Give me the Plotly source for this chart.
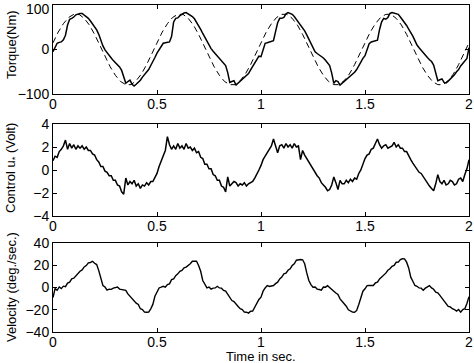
import numpy as np
import plotly.graph_objects as go

# time axes (seconds)
t_fine = np.round(np.arange(0, 201) * 0.01, 2)
t_ref = np.round(np.arange(0, 81) * 0.025, 3)

# Torque (Nm): measured (solid) and reference (dashed)
torque_measured = [
    -5, 5, 14, 16, 17, 22, 32, 55, 68, 70, 73, 78, 80, 81, 81, 78, 74, 70, 64, 57,
    51, 44, 34, 20, 8, -1, -8, -14, -19, -25, -30, -34, -39, -47, -60, -76, -72, -69, -78, -82,
    -78, -74, -69, -62, -57, -51, -45, -36, -28, -18,
    -8, 0, 8, 14, 15, 16, 17, 29, 62, 70, 71, 76, 80, 82, 83, 80, 78, 74, 69, 62,
    54, 45, 36, 27, 17, 8, 2, -4, -9, -14, -19, -24, -30, -36, -52, -74, -72, -70, -80, -76,
    -71, -67, -63, -58, -54, -46, -38, -31, -23, -15,
    -16, 2, 14, 15, 17, 18, 20, 40, 60, 70, 70, 72, 80, 83, 81, 79, 74, 68, 62, 56,
    50, 42, 33, 24, 14, 5, -5, -9, -12, -15, -19, -24, -29, -36, -53, -76, -70, -72, -80, -76,
    -71, -68, -65, -61, -57, -51, -45, -36, -30, -20,
    -14, 2, 13, 17, 18, 20, 21, 45, 62, 70, 68, 72, 81, 83, 82, 80, 79, 73, 67, 61,
    54, 46, 39, 30, 20, 10, 4, -2, -8, -13, -18, -23, -27, -35, -50, -70, -68, -66, -74, -75,
    -71, -67, -63, -57, -50, -45, -37, -32, -27, -20,
    4,
]
torque_reference = [
    15, 39, 58, 72, 79, 79, 70, 55, 34, 10, -15, -39, -58, -72, -79, -79, -70, -55, -34, -10,
    15, 39, 58, 72, 79, 79, 70, 55, 34, 10, -15, -39, -58, -72, -79, -79, -70, -55, -34, -10,
    15, 39, 58, 72, 79, 79, 70, 55, 34, 10, -15, -39, -58, -72, -79, -79, -70, -55, -34, -10,
    15, 39, 58, 72, 79, 79, 70, 55, 34, 10, -15, -39, -58, -72, -79, -79, -70, -55, -34, -10,
    15,
]

# Control u* (Volt)
control_u = [
    0.8, 1.2, 1.1, 1.6, 1.8, 2.1, 2.6, 1.8, 2.3, 1.9, 2.2, 1.8, 2.1, 1.9, 2.1, 1.8, 2.0, 1.7, 1.7, 1.4,
    1.3, 0.9, 0.7, 0.3, 0.3, -0.1, -0.2, -0.5, -0.5, -0.9, -0.9, -1.3, -1.4, -1.9, -2.1, -0.7, -1.3, -1.0, -1.2, -0.9,
    -1.4, -1.2, -1.6, -1.3, -1.4, -1.1, -1.3, -1.0, -1.0, -0.6,
    -0.3, 0.3, 0.8, 1.3, 1.7, 2.9, 2.2, 1.8, 2.1, 1.8, 2.3, 1.9, 2.1, 1.8, 2.3, 1.9, 2.0, 1.7, 1.9, 1.5,
    1.6, 1.1, 1.0, 0.5, 0.5, 0.1, 0.1, -0.4, -0.5, -0.9, -0.9, -1.4, -1.5, -1.9, -0.6, -1.4, -1.2, -1.0, -1.1, -1.4,
    -1.2, -1.3, -1.1, -1.4, -1.2, -1.1, -1.0, -0.7, -0.4, 0.0,
    0.4, 0.9, 1.2, 1.5, 1.9, 2.1, 2.7, 2.1, 1.5, 2.1, 2.2, 1.9, 2.3, 2.0, 2.2, 1.9, 2.3, 2.0, 2.1, 0.9,
    1.7, 1.3, 1.0, 0.6, 0.4, 0.1, -0.2, -0.5, -0.7, -1.1, -1.3, -1.5, -1.8, -1.7, -1.3, -0.6, -1.1, -1.7, -0.9, -1.2,
    -1.2, -0.9, -1.1, -0.8, -1.0, -0.7, -0.8, -0.3, 0.0, 0.6,
    1.0, 1.3, 1.4, 1.8, 1.9, 2.3, 2.7, 2.2, 1.9, 2.1, 2.2, 1.9, 2.0, 2.1, 2.4, 2.0, 2.2, 1.9, 1.9, 1.6,
    1.6, 1.2, 0.9, 0.6, 0.3, 0.1, -0.2, -0.3, -0.6, -0.9, -1.2, -1.4, -1.6, -1.8, -1.2, -0.4, -1.0, -1.2, -0.9, -1.3,
    -1.2, -0.9, -1.0, -1.3, -1.2, -0.8, -0.7, -1.0, -0.4, 0.1,
    0.9,
]

# Velocity (deg./sec.)
velocity = [
    -9, -1, -2.5, 0.5, -1, 1.2, 0.8, 4, 4.8, 7.8, 8.4, 10.8, 12.2, 14.6, 15.8, 18.5, 19.7, 22.1, 22.5, 23.6,
    21.8, 20.6, 15.2, 8.6, 1.8, 0.4, -2.3, -1.5, -1.7, -0.6, -0.4, 0.4, -1.4, -1.6, -2.4, -2.6, -5.8, -7.9, -10.2, -11.5,
    -14.1, -15.3, -19.1, -19.8, -22.1, -22.2, -22.1, -19.2, -15.2, -7.9,
    -4.2, -0.4, 0.3, 1.1, 0.3, 2.6, 3.3, 7.1, 7.8, 10.7, 12.3, 14.6, 15.3, 17.6, 18.3, 19.7, 21.3, 23.6, 23.4, 23.6,
    19.8, 14.6, 6.3, 2.6, -0.4, 0.4, -1.4, -0.6, -0.4, 1.1, -0.4, -0.6, -2.6, -3.3, -6.2, -7.9, -11.7, -12.6, -15.4, -17.1,
    -19.1, -19.8, -22.1, -22.2, -23.0, -21.3, -21.2, -17.4, -14.6, -10.8,
    -8.7, -3.3, -0.4, 1.7, 0.9, 1.7, 1.8, 3.5, 4.8, 7.7, 9.3, 12.2, 12.9, 15.5, 16.8, 19.7, 21.3, 24.5, 24.9, 25.1,
    24.9, 21.3, 13.1, 6.3, 2.6, 0.3, 0.4, -1.4, -1.8, -2.4, 0.4, 0.3, 1.7, 0.3, -1.4, -3.3, -5.0, -6.3, -10.2, -12.3,
    -15.2, -16.8, -20.0, -21.3, -22.1, -22.2, -20.6, -15.3, -10.2, -3.3,
    -1.2, 1.7, 1.8, 2.0, 1.8, 4.1, 4.8, 7.7, 9.3, 11.6, 12.9, 15.5, 16.8, 19.1, 19.8, 22.7, 22.8, 25.1, 25.8, 25.7,
    22.8, 17.6, 9.3, 5.6, 1.8, 1.1, -0.4, -0.6, -2.4, -0.6, 0.3, 1.7, -0.4, -1.6, -4.1, -4.8, -7.1, -9.4, -12.3, -13.8,
    -17.0, -17.4, -19.1, -19.8, -21.2, -19.8, -22.1, -19.8, -19.1, -14.4,
    -8.3,
]

x_ticks = [0, 0.5, 1, 1.5, 2]
x_tick_text = ["0", "0.5", "1", "1.5", "2"]
torque_ticks = [-100, 0, 100]
torque_tick_text = ["\u2212100", "0", ""]   # top "100" drawn as a label just inside the page edge
torque_top_label = "100"
control_ticks = [-4, -2, 0, 2, 4]
velocity_ticks = [-40, -20, 0, 20, 40]

FONT = "Liberation Sans, Arial, Helvetica, sans-serif"

fig = go.Figure()
fig.add_trace(go.Scatter(x=t_ref, y=torque_reference, mode="lines",
                         line=dict(color="black", width=1, dash="6px,4px"),
                         xaxis="x", yaxis="y", showlegend=False))
fig.add_trace(go.Scatter(x=t_fine, y=torque_measured, mode="lines",
                         line=dict(color="black", width=1.5),
                         xaxis="x", yaxis="y", showlegend=False))
fig.add_trace(go.Scatter(x=t_fine, y=control_u, mode="lines",
                         line=dict(color="black", width=1.5),
                         xaxis="x2", yaxis="y2", showlegend=False))
fig.add_trace(go.Scatter(x=t_fine, y=velocity, mode="lines",
                         line=dict(color="black", width=1.4),
                         xaxis="x3", yaxis="y3", showlegend=False))

W, H = 474, 363
x_dom = [53 / W, 469 / W]
doms = [
    [1 - 94 / H, 1 - 5 / H],
    [1 - 216 / H, 1 - 124 / H],
    [1 - 332 / H, 1 - 243 / H],
]

axis_common = dict(showline=True, linecolor="black", linewidth=1, mirror="ticks",
                   ticks="inside", ticklen=4, tickcolor="black", tickwidth=1,
                   showgrid=False, zeroline=False, automargin=False,
                   ticklabeloverflow="allow",
                   tickfont=dict(family=FONT, size=14, color="black"))

layout = dict(width=W, height=H, margin=dict(l=0, r=0, t=0, b=0, pad=0),
              paper_bgcolor="white", plot_bgcolor="white", showlegend=False)

yticks = [torque_ticks, control_ticks, velocity_ticks]
yranges = [[-100, 100], [-4, 4], [-40, 40]]
for i in range(3):
    sfx = "" if i == 0 else str(i + 1)
    layout["xaxis" + sfx] = dict(axis_common, domain=x_dom, range=[0, 2],
                                 tickvals=x_ticks, ticktext=x_tick_text,
                                 ticklabelstandoff=-3, anchor="y" + sfx)
    layout["yaxis" + sfx] = dict(axis_common, domain=doms[i], range=yranges[i],
                                 tickvals=yticks[i], anchor="x" + sfx)
layout["yaxis"]["ticktext"] = torque_tick_text

fig.update_layout(**layout)

# top tick label of the torque axis, kept fully inside the page
fig.add_annotation(text=torque_top_label, xref="paper", yref="paper", x=51 / W, y=1.0,
                   xanchor="right", yanchor="top", showarrow=False, borderpad=0,
                   font=dict(family=FONT, size=14, color="black"))

labels = ["Torque(Nm)", "Control u<sub>*</sub> (Volt)", "Velocity (deg./sec.)"]
centers = [45, 168, 287]
for lab, cy in zip(labels, centers):
    fig.add_annotation(text=lab, xref="paper", yref="paper", x=11 / W, y=1 - cy / H,
                       textangle=-90, showarrow=False, xanchor="center", yanchor="middle",
                       font=dict(family=FONT, size=13, color="black"))

fig.add_annotation(text="Time in sec.", xref="paper", yref="paper", x=261 / W, y=1 - 356 / H,
                   showarrow=False, xanchor="center", yanchor="middle",
                   font=dict(family=FONT, size=13, color="black"))

fig.write_html("out.html", config={"displayModeBar": False},
               post_script="document.body.style.margin='0';document.body.style.padding='0';document.body.style.overflow='hidden';")
